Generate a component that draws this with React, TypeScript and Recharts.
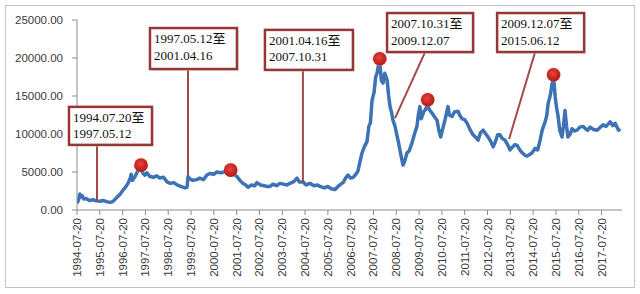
import React from "react";
import { ComposedChart, Line, XAxis, YAxis, ReferenceDot } from "recharts";

// ---- data (decimal years / index values) ----
const dates: number[] = [
  1994.55, 1994.62, 1994.68, 1994.72, 1994.78, 1994.85, 1994.95, 1995.1, 1995.25, 1995.4,
  1995.56, 1995.7, 1995.85, 1996.0, 1996.12, 1996.25, 1996.35, 1996.45, 1996.57, 1996.68,
  1996.79, 1996.88, 1996.93, 1996.98, 1997.08, 1997.18, 1997.3, 1997.36, 1997.45, 1997.53,
  1997.62, 1997.75, 1997.9, 1998.05, 1998.19, 1998.35, 1998.5, 1998.65, 1998.8, 1998.94,
  1999.1, 1999.29, 1999.38, 1999.42, 1999.5, 1999.64, 1999.8, 1999.94, 2000.1, 2000.25,
  2000.38, 2000.55, 2000.69, 2000.85, 2001.0, 2001.13, 2001.29, 2001.4, 2001.57, 2001.7,
  2001.83, 2001.95, 2002.05, 2002.2, 2002.35, 2002.44, 2002.6, 2002.75, 2002.9, 2003.02,
  2003.15, 2003.3, 2003.45, 2003.6, 2003.75, 2003.89, 2004.05, 2004.2, 2004.3, 2004.46,
  2004.6, 2004.77, 2004.95, 2005.1, 2005.21, 2005.4, 2005.55, 2005.7, 2005.87, 2006.0,
  2006.12, 2006.22, 2006.35, 2006.44, 2006.55, 2006.66, 2006.78, 2006.87, 2006.95, 2007.05,
  2007.15, 2007.27, 2007.35, 2007.42, 2007.49, 2007.58, 2007.65, 2007.71, 2007.8, 2007.84,
  2007.9, 2007.97, 2008.05, 2008.15, 2008.22, 2008.28, 2008.35, 2008.41, 2008.5, 2008.58,
  2008.63, 2008.72, 2008.8, 2008.85, 2008.92, 2009.02, 2009.12, 2009.24, 2009.35, 2009.46,
  2009.52, 2009.59, 2009.65, 2009.75, 2009.85, 2009.93, 2010.0, 2010.12, 2010.22, 2010.34,
  2010.42, 2010.5, 2010.6, 2010.7, 2010.82, 2010.88, 2011.0, 2011.1, 2011.26, 2011.35,
  2011.44, 2011.55, 2011.66, 2011.8, 2011.92, 2012.05, 2012.14, 2012.25, 2012.36, 2012.48,
  2012.58, 2012.7, 2012.8, 2012.9, 2013.0, 2013.1, 2013.2, 2013.32, 2013.45, 2013.54,
  2013.65, 2013.75, 2013.85, 2013.95, 2014.05, 2014.2, 2014.29, 2014.4, 2014.5, 2014.64,
  2014.75, 2014.86, 2014.95, 2015.08, 2015.15, 2015.21, 2015.3, 2015.38, 2015.45, 2015.52,
  2015.58, 2015.65, 2015.72, 2015.82, 2015.88, 2015.95, 2016.02, 2016.08, 2016.18, 2016.26,
  2016.37, 2016.48, 2016.6, 2016.74, 2016.85, 2016.95, 2017.05, 2017.2, 2017.36, 2017.5,
  2017.62, 2017.75, 2017.93, 2018.05, 2018.15, 2018.23, 2018.3, 2018.37,
];

const indexValues: number[] = [
  900, 1300, 2100, 1700, 1900, 1450, 1500, 1250, 1350, 1200,
  1150, 1250, 1100, 1000, 1100, 1500, 1800, 2100, 2600, 3000,
  3500, 4100, 4700, 3900, 4300, 4900, 5600, 5500, 4800, 4600,
  4900, 4400, 4300, 4500, 4200, 4300, 3700, 3500, 3600, 3300,
  3100, 2900, 3000, 4400, 4100, 3900, 4000, 4200, 4000, 4600,
  4800, 4700, 5000, 4900, 5000, 5300, 5200, 4800, 4400, 3900,
  3500, 3300, 3000, 3300, 3200, 3600, 3300, 3200, 3100, 3100,
  3400, 3200, 3500, 3400, 3300, 3500, 3700, 4200, 3700, 3700,
  3300, 3500, 3200, 3300, 3100, 2900, 3100, 2800, 2700, 3100,
  3400, 3600, 4300, 4600, 4200, 4300, 4700, 5100, 6200, 7500,
  8300, 9000, 11000, 11500, 14400, 15500, 17500, 18000, 19600, 19200,
  17000, 16700, 18000, 17100, 15000, 13600, 12800, 11800, 11000, 9800,
  9200, 7800, 6600, 5900, 6400, 7500, 7800, 8800, 10000, 11000,
  12500, 13600, 12000, 12900, 13300, 14000, 13200, 12760, 12300, 11800,
  10500, 9600, 10800, 12000, 13600, 12500, 12300, 12900, 13000, 12400,
  12000, 11900, 11400, 10500, 9900, 9500, 9200, 10200, 10500, 10000,
  9600, 9000, 8300, 9000, 9900, 9900, 9400, 9200, 8500, 7900,
  8300, 8600, 8500, 8000, 7600, 7200, 7100, 7300, 7500, 8100,
  7900, 9200, 10500, 11600, 12400, 14000, 15000, 16500, 17500, 14900,
  13500, 12300, 10500, 9600, 11000, 13100, 11000, 9600, 10000, 10700,
  10400, 10500, 10900, 11000, 10700, 10500, 10900, 10600, 10500, 10900,
  11200, 11000, 11600, 11100, 11400, 10900, 10500, 10700,
];

const xTickLabels: string[] = [
  "1994-07-20", "1995-07-20", "1996-07-20", "1997-07-20", "1998-07-20", "1999-07-20",
  "2000-07-20", "2001-07-20", "2002-07-20", "2003-07-20", "2004-07-20", "2005-07-20",
  "2006-07-20", "2007-07-20", "2008-07-20", "2009-07-20", "2010-07-20", "2011-07-20",
  "2012-07-20", "2013-07-20", "2014-07-20", "2015-07-20", "2016-07-20", "2017-07-20",
];

const yTicks: number[] = [0, 5000, 10000, 15000, 20000, 25000];

// peak markers (red dots)
const markerDates: number[] = [1997.36, 2001.29, 2007.83, 2009.93, 2015.45];
const markerValues: number[] = [5900, 5250, 19900, 14500, 17800];

// callouts: texts and the point on the line each leader points to
const calloutTexts: string[][] = [
  ["1994.07.20至", "1997.05.12"],
  ["1997.05.12至", "2001.04.16"],
  ["2001.04.16至", "2007.10.31"],
  ["2007.10.31至", "2009.12.07"],
  ["2009.12.07至", "2015.06.12"],
];
const calloutDates: number[] = [1995.43, 1999.42, 2004.46, 2008.5, 2013.5];
const calloutValues: number[] = [1200, 4600, 3700, 12100, 9340];

// layout of callout boxes relative to their anchor (pixels)
const calloutLayout = [
  { left: -28, top: -94, w: 83, h: 38, lx: 0 },
  { left: -38, top: -147, w: 87, h: 41, lx: 0 },
  { left: -38, top: -152, w: 88, h: 40, lx: 0 },
  { left: -8, top: -105, w: 86, h: 39, lx: 30 },
  { left: -12, top: -126, w: 87, h: 39, lx: 26 },
];

const toYear = (s: string) => {
  const [y, m, d] = s.split("-").map(Number);
  return y + (m - 1 + d / 31) / 12;
};

const chartData = dates.map((t, i) => ({ t, v: indexValues[i] }));
const xTicks = xTickLabels.map(toYear);

const XTick = (props: any) => {
  const { x, y, payload } = props;
  const i = xTicks.findIndex((t) => Math.abs(t - payload.value) < 0.01);
  const label = i >= 0 ? xTickLabels[i] : "";
  return (
    <text
      transform={`translate(${x + 4},${y + 1}) rotate(-90)`}
      textAnchor="end"
      fontSize={11.5}
      fontFamily="'Liberation Sans', Arial, sans-serif"
      fill="#3a3a3a"
    >
      {label}
    </text>
  );
};

const makeCallout = (idx: number) => (props: any) => {
  const { cx, cy } = props;
  const L = calloutLayout[idx];
  const bx = cx + L.left;
  const by = cy + L.top;
  const lines = calloutTexts[idx];
  return (
    <g>
      <line
        x1={cx + L.lx}
        y1={by + L.h}
        x2={cx}
        y2={cy}
        stroke="#A24A4B"
        strokeWidth={2}
      />
      <rect x={bx + 2} y={by + 2} width={L.w} height={L.h} fill="#d8d8d8" opacity={0.5} />
      <rect
        x={bx}
        y={by}
        width={L.w}
        height={L.h}
        fill="#ffffff"
        stroke="#953735"
        strokeWidth={2.5}
      />
      {lines.map((s, k) => (
        <text
          key={k}
          x={bx + 4}
          y={by + 15 + k * 16.5}
          fontSize={13}
          fontFamily="'Liberation Serif', 'Times New Roman', 'Noto Sans CJK SC', serif"
          fill="#111111"
        >
          {s}
        </text>
      ))}
    </g>
  );
};

const RedDot = (props: any) => {
  const { cx, cy } = props;
  return (
    <g>
      <circle cx={cx} cy={cy} r={7.5} fill="#e6a5a0" opacity={0.4} />
      <circle cx={cx} cy={cy} r={6.8} fill="url(#redGrad)" />
    </g>
  );
};

export default function App() {
  return (
    <div
      style={{
        position: "absolute",
        left: 0,
        top: 0,
        width: 640,
        height: 294,
        background: "#ffffff",
        overflow: "hidden",
      }}
    >
      <div
        style={{
          position: "absolute",
          left: 5,
          top: 5,
          width: 628,
          height: 281,
          border: "1px solid #c4c4c4",
        }}
      />
      <div style={{ position: "absolute", left: 0, top: 0 }}>
        <ComposedChart
          width={640}
          height={294}
          data={chartData}
          margin={{ top: 20, right: 18, bottom: 14, left: 0 }}
        >
          <defs>
            <radialGradient id="redGrad" cx="45%" cy="40%" r="60%">
              <stop offset="0%" stopColor="#e0463f" />
              <stop offset="70%" stopColor="#c4241f" />
              <stop offset="100%" stopColor="#a81c1a" />
            </radialGradient>
          </defs>
          <XAxis
            dataKey="t"
            type="number"
            domain={[xTicks[0], 2018.45]}
            ticks={xTicks}
            interval={0}
            height={70}
            tick={<XTick />}
            tickSize={5}
            axisLine={{ stroke: "#8c8c8c", strokeWidth: 1 }}
            tickLine={{ stroke: "#8c8c8c" }}
            allowDataOverflow
          />
          <YAxis
            type="number"
            domain={[0, 25000]}
            ticks={yTicks}
            width={77}
            tickSize={5}
            tickMargin={9}
            tickFormatter={(v: number) => v.toFixed(2)}
            tick={{
              fontSize: 11.5,
              fill: "#3a3a3a",
              fontFamily: "'Liberation Sans', Arial, sans-serif",
            }}
            axisLine={{ stroke: "#8c8c8c", strokeWidth: 1 }}
            tickLine={{ stroke: "#8c8c8c" }}
          />
          <Line
            type="linear"
            dataKey="v"
            stroke="#3d72b4"
            strokeWidth={3.5}
            strokeLinejoin="round"
            dot={false}
            activeDot={false}
            isAnimationActive={false}
          />
          {calloutDates.map((t, i) => (
            <ReferenceDot
              key={"c" + i}
              x={t}
              y={calloutValues[i]}
              r={1}
              ifOverflow="visible"
              shape={makeCallout(i)}
            />
          ))}
          {markerDates.map((t, i) => (
            <ReferenceDot
              key={"m" + i}
              x={t}
              y={markerValues[i]}
              r={7}
              ifOverflow="visible"
              shape={RedDot}
            />
          ))}
        </ComposedChart>
      </div>
    </div>
  );
}
